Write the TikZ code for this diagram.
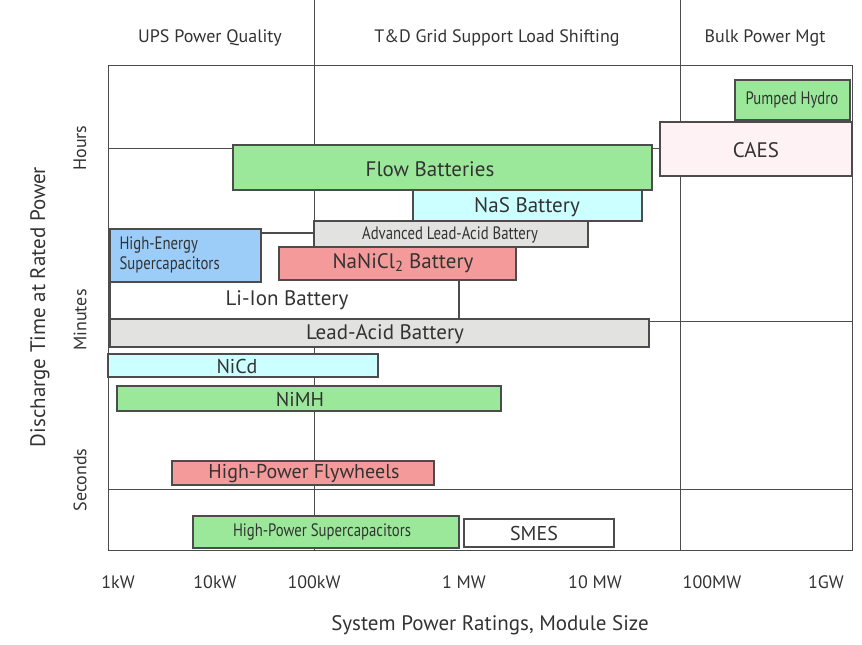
\documentclass[tikz,border=0pt]{standalone}
\usepackage{fontspec}
\setmainfont{PT Sans}
\newcommand{\sqz}[1]{\scalebox{0.82}[1]{#1}}
\begin{document}
\begin{tikzpicture}[x=1pt,y=-1pt,
  grid/.style={draw=black!70,line width=1pt},
  bar/.style={draw=black!70,line width=1.3pt},
  lbl/.style={font=\fontsize{20}{22}\selectfont,text=black!80},
  big/.style={font=\fontsize{21}{23}\selectfont,text=black!80},
  small/.style={font=\fontsize{18}{20}\selectfont,text=black!80},
  tick/.style={font=\fontsize{18}{20}\selectfont,text=black!80}]
\definecolor{gr}{HTML}{9BE89B}
\definecolor{cy}{HTML}{CCFFFF}
\definecolor{gy}{HTML}{E2E2E0}
\definecolor{bl}{HTML}{9CCCF8}
\definecolor{sa}{HTML}{F49A9A}
\definecolor{pk}{HTML}{FFF2F5}
\useasboundingbox (0,0) rectangle (862,645);
% frame and grid
\draw[grid] (108,65) rectangle (852,550);
\draw[grid] (314,0) -- (314,550);
\draw[grid] (680,0) -- (680,550);
\draw[grid] (108,148) -- (852,148);
\draw[grid] (108,321) -- (852,321);
\draw[grid] (108,489) -- (852,489);
% headers
\node[tick] (h1) at (210,38) {UPS Power Quality};
\node[tick] (h2) at (497,38) {T\&D Grid Support Load Shifting};
\node[tick] (h3) at (765,38) {Bulk Power Mgt};
% axis labels
\node[tick,rotate=90] (yh) at (80,148) {Hours};
\node[tick,rotate=90] (ym) at (80,320) {Minutes};
\node[tick,rotate=90] (ys) at (80,480) {Seconds};
\node[font=\fontsize{21}{23}\selectfont,text=black!80,rotate=90] (yl) at (40,307) {Discharge Time at Rated Power};
\node[font=\fontsize{21}{23}\selectfont,text=black!80] (xl) at (490,625) {System Power Ratings, Module Size};
\foreach \x/\t [count=\i] in {118/1kW,215/10kW,314/100kW,464/1 MW,595/10 MW,712/100MW,826/1GW}
  \node[tick] (t\i) at (\x,582) {\t};
% Li-ion outline
\draw[bar,fill=white] (110,233) rectangle (459,320);
\node[big] (li) at (287,300) {Li-Ion Battery};
% bars
\draw[bar,fill=gr] (735,80) rectangle (850,120);
\node[small] (ph) at (792,100) {\sqz{Pumped Hydro}};
\draw[bar,fill=pk] (660,122) rectangle (852,176);
\node[big] (caes) at (756,150) {CAES};
\draw[bar,fill=gr] (233,145) rectangle (652,190);
\node[big] (fb) at (430,169) {Flow Batteries};
\draw[bar,fill=cy] (413,190) rectangle (642,221);
\node[big] (nas) at (527,207) {NaS Battery};
\draw[bar,fill=gy] (314,221) rectangle (588,247);
\node[small] (alab) at (450,235) {\sqz{Advanced Lead-Acid Battery}};
\draw[bar,fill=bl] (110,229) rectangle (261,282);
\node[small,anchor=west] (hes) at (116,255) {\sqz{\shortstack[l]{High-Energy\\Supercapacitors}}};
\draw[bar,fill=sa] (279,247) rectangle (516,280);
\node[big] (nan) at (403,263) {NaNiCl\textsubscript{2} Battery};
\draw[bar,fill=gy] (110,319) rectangle (649,347);
\node[big] (la) at (385,334) {Lead-Acid Battery};
\draw[bar,fill=cy] (108,354) rectangle (378,377);
\node[lbl] (nicd) at (237,366) {NiCd};
\draw[bar,fill=gr] (117,386) rectangle (501,411);
\node[lbl] (nimh) at (300,399) {NiMH};
\draw[bar,fill=sa] (172,461) rectangle (434,485);
\node[lbl] (fly) at (304,474) {High-Power Flywheels};
\draw[bar,fill=gr] (193,516) rectangle (459,548);
\node[small] (hps) at (322,532) {\sqz{High-Power Supercapacitors}};
\draw[bar,fill=white] (464,519) rectangle (614,547);
\node[lbl] (smes) at (534,533) {SMES};
\end{tikzpicture}
\end{document}
